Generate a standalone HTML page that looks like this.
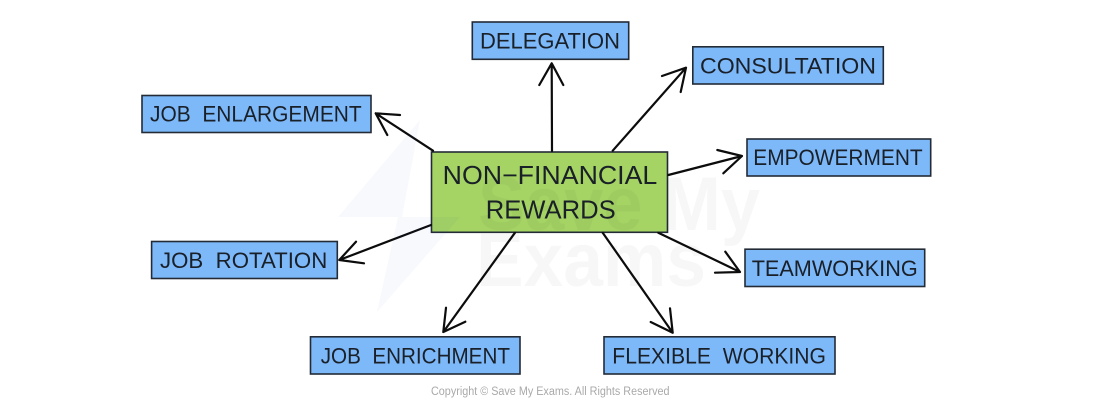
<!DOCTYPE html>
<html>
<head>
<meta charset="utf-8">
<style>
html,body{margin:0;padding:0;background:#fff;width:1100px;height:404px;overflow:hidden}
svg{display:block}
text{font-family:"Liberation Sans",sans-serif;fill:#1a2028}
.l{font-size:22px}
.c{font-size:26px}
.b{fill:#7db8f9;stroke:#232b36;stroke-width:1.6}
.a{fill:none;stroke:#0c0c0c;stroke-width:2.2;stroke-linecap:round;stroke-linejoin:round}
.w{font-weight:bold;font-size:76px;fill:#000;opacity:.028}
</style>
</head>
<body>
<svg width="1100" height="404" viewBox="0 0 1100 404" xmlns="http://www.w3.org/2000/svg">
<rect width="1100" height="404" fill="#fff"/>

<rect class="b" x="142" y="95.5" width="229" height="37"/>
<rect class="b" x="472.3" y="22" width="156.4" height="37.3"/>
<rect class="b" x="692.8" y="46.8" width="190.5" height="37.2"/>
<rect class="b" x="747" y="139" width="183.7" height="37"/>
<rect class="b" x="151.6" y="241.5" width="185.7" height="37"/>
<rect class="b" x="310.5" y="336.8" width="209.5" height="37.2"/>
<rect class="b" x="745" y="249.2" width="179.7" height="37.3"/>
<rect class="b" x="604" y="336.8" width="231" height="37.2"/>
<rect x="431.5" y="152" width="236" height="80.3" fill="#a5d364" stroke="#232b36" stroke-width="1.6"/>

<path class="a" d="M433 150.7L375.7 113.3M400 115L375.7 113.3L387.3 135"/>
<path class="a" d="M552 151L551.7 63.3M539.3 85L551.7 63.3L563.3 85"/>
<path class="a" d="M612.7 150.7L686 67.7M662 76L686 67.7L680.7 92"/>
<path class="a" d="M668.3 175L742 156M717.3 150L742 156L723.3 173.3"/>
<path class="a" d="M431 225L339.3 260M356 241.7L339.3 260L364 263.3"/>
<path class="a" d="M515 232.7L443.3 332M446 307.7L443.3 332L465.3 321.7"/>
<path class="a" d="M658.3 232.7L740 272M725.3 251.7L740 272L715 272.7"/>
<path class="a" d="M602.7 232.7L672.7 332.7M670 308.3L672.7 332.7L650.7 322"/>

<text class="l" x="150" y="121.7" textLength="211.7" lengthAdjust="spacingAndGlyphs">JOB&#160;&#160;ENLARGEMENT</text>
<text class="l" x="480" y="48.3" textLength="140" lengthAdjust="spacingAndGlyphs">DELEGATION</text>
<text class="l" x="700" y="73.3" textLength="176" lengthAdjust="spacingAndGlyphs">CONSULTATION</text>
<text class="l" x="753.3" y="165" textLength="169.4" lengthAdjust="spacingAndGlyphs">EMPOWERMENT</text>
<text class="l" x="160" y="268" textLength="167.3" lengthAdjust="spacingAndGlyphs">JOB&#160;&#160;ROTATION</text>
<text class="l" x="320.7" y="363.3" textLength="189.3" lengthAdjust="spacingAndGlyphs">JOB&#160;&#160;ENRICHMENT</text>
<text class="l" x="751.7" y="276" textLength="166" lengthAdjust="spacingAndGlyphs">TEAMWORKING</text>
<text class="l" x="612.3" y="363.3" textLength="213.7" lengthAdjust="spacingAndGlyphs">FLEXIBLE&#160;&#160;WORKING</text>
<text class="c" x="442.7" y="184" textLength="214.6" lengthAdjust="spacingAndGlyphs">NON−FINANCIAL</text>
<text class="c" x="485.7" y="218.3" textLength="130" lengthAdjust="spacingAndGlyphs">REWARDS</text>

<polygon points="420,120 338,217 398,217 377,312 460,217 402,217" fill="#2b4ec8" opacity=".03"/>
<text class="w" x="478" y="230" textLength="282" lengthAdjust="spacingAndGlyphs">Save My</text>
<text class="w" x="476" y="286" textLength="230" lengthAdjust="spacingAndGlyphs">Exams</text>

<text x="431" y="395" font-size="11.5" textLength="238.5" lengthAdjust="spacingAndGlyphs" style="fill:#a9a9a9">Copyright © Save My Exams. All Rights Reserved</text>
</svg>
</body>
</html>
